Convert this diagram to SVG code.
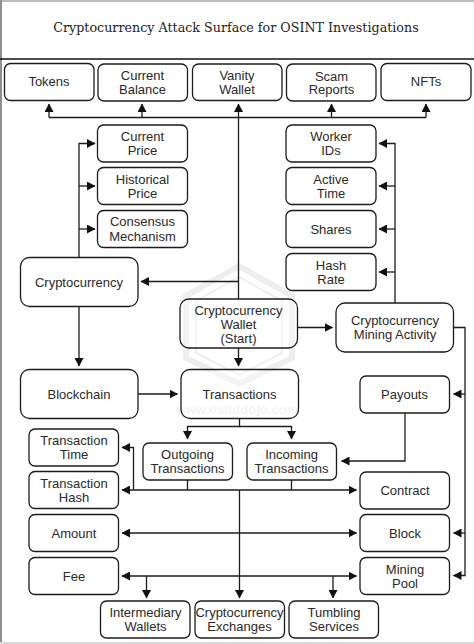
<svg xmlns="http://www.w3.org/2000/svg" width="474" height="644" viewBox="0 0 474 644">
<style>
.n{fill:#fff;stroke:#1c1c1c;stroke-width:1.3}
.w{fill:#fff;fill-opacity:.35}
.t{font-family:"Liberation Sans",Arial,sans-serif;font-size:13px;fill:#2a2a2a;text-anchor:middle}
.c{fill:none;stroke:#1c1c1c;stroke-width:1.3}
.m{fill:none;stroke:#eeeeee}
</style>
<defs><marker id="a" markerWidth="9" markerHeight="9" refX="8" refY="4.500" orient="auto" markerUnits="userSpaceOnUse"><path d="M0 0L8.500 4.500L0 9z" fill="#111"/></marker></defs>
<rect width="474" height="644" fill="#fff"/>
<rect width="474" height="2" fill="#bdbdbd"/>
<rect width="2" height="644" fill="#8f8f8f"/>
<rect y="642" width="474" height="2" fill="#d8d8d8"/>
<path d="M0 59H474" stroke="#111" stroke-width="1.5"/>
<text x="236" y="32" style="font-family:'DejaVu Serif',serif;font-size:12.700px;fill:#222;text-anchor:middle">Cryptocurrency Attack Surface for OSINT Investigations</text>
<g id="watermark">
<path class="m" stroke-width="6" d="M239 266L292 296V358L239 384L186 358V296Z"/>
<path class="m" stroke-width="2" d="M239 277L282 301V353L239 375L196 353V301Z"/>
<text x="237" y="414" style="font-family:'Liberation Sans',sans-serif;font-size:13px;font-weight:bold;fill:#eeeeee;text-anchor:middle">www.osintdojo.com</text>
</g>
<g id="connectors">
<path class="c" d="M49 117.500H426"/>
<path class="c" d="M49 117.500V104" marker-end="url(#a)"/>
<path class="c" d="M142 117.500V104" marker-end="url(#a)"/>
<path class="c" d="M331.500 117.500V104" marker-end="url(#a)"/>
<path class="c" d="M426 117.500V104" marker-end="url(#a)"/>
<path class="c" d="M238.500 299V104" marker-end="url(#a)"/>
<path class="c" d="M79 257.500V143.500H95" marker-end="url(#a)"/>
<path class="c" d="M79 186H95" marker-end="url(#a)"/>
<path class="c" d="M79 229H95" marker-end="url(#a)"/>
<path class="c" d="M395 303V143.500H379" marker-end="url(#a)"/>
<path class="c" d="M395 186H379" marker-end="url(#a)"/>
<path class="c" d="M395 229H379" marker-end="url(#a)"/>
<path class="c" d="M395 272H379" marker-end="url(#a)"/>
<path class="c" d="M238.500 281.500H141" marker-end="url(#a)"/>
<path class="c" d="M79 306.500V366" marker-end="url(#a)"/>
<path class="c" d="M297.500 327.500H332.500" marker-end="url(#a)"/>
<path class="c" d="M238.500 348V366" marker-end="url(#a)"/>
<path class="c" d="M138 394H177.500" marker-end="url(#a)"/>
<path class="c" d="M453.500 327.500H465V575.500H453.500" marker-end="url(#a)"/>
<path class="c" d="M465 394H453.500" marker-end="url(#a)"/>
<path class="c" d="M465 533H453.500" marker-end="url(#a)"/>
<path class="c" d="M405 413V461H341.500" marker-end="url(#a)"/>
<path class="c" d="M239.500 418.500V426.500H187.500V439" marker-end="url(#a)"/>
<path class="c" d="M239.500 426.500H291.500V439" marker-end="url(#a)"/>
<path class="c" d="M187.500 480V490M291.500 480V490"/>
<path class="c" d="M133.500 490V447.500H122" marker-end="url(#a)"/>
<path class="c" d="M239.500 490H122" marker-end="url(#a)"/>
<path class="c" d="M239.500 490H356.500" marker-end="url(#a)"/>
<path class="c" d="M239.500 490V598" marker-end="url(#a)"/>
<path class="c" d="M239.500 533H122" marker-end="url(#a)"/>
<path class="c" d="M239.500 533H356.500" marker-end="url(#a)"/>
<path class="c" d="M239.500 576H122" marker-end="url(#a)"/>
<path class="c" d="M239.500 576H356.500" marker-end="url(#a)"/>
<path class="c" d="M146.500 576V598" marker-end="url(#a)"/>
<path class="c" d="M333 576V598" marker-end="url(#a)"/>
</g>
<g id="tokens"><rect class="n" x="4.500" y="63.500" width="89.500" height="37" rx="6"/><text class="t" x="49" y="86">Tokens</text></g>
<g id="balance"><rect class="n" x="98" y="64" width="89.500" height="37" rx="6"/><text class="t" x="142.500" y="80">Current</text><text class="t" x="142.500" y="94">Balance</text></g>
<g id="vanity"><rect class="n" x="192.500" y="64" width="89.500" height="36.500" rx="6"/><text class="t" x="237" y="80">Vanity</text><text class="t" x="237" y="94">Wallet</text></g>
<g id="scam"><rect class="n" x="286.500" y="64" width="89.500" height="37" rx="6"/><text class="t" x="331.500" y="80.500">Scam</text><text class="t" x="331.500" y="94">Reports</text></g>
<g id="nfts"><rect class="n" x="381" y="63.500" width="90" height="37" rx="6"/><text class="t" x="426" y="86">NFTs</text></g>
<g id="price"><rect class="n" x="97.500" y="125" width="90" height="37" rx="6"/><text class="t" x="142.500" y="141">Current</text><text class="t" x="142.500" y="155">Price</text></g>
<g id="historical"><rect class="n" x="97.500" y="167.500" width="90" height="37" rx="6"/><text class="t" x="142.500" y="183.500">Historical</text><text class="t" x="142.500" y="197.500">Price</text></g>
<g id="consensus"><rect class="n" x="97.500" y="210.500" width="90" height="37" rx="6"/><text class="t" x="142.500" y="226">Consensus</text><text class="t" x="142.500" y="240.500">Mechanism</text></g>
<g id="worker"><rect class="n" x="286" y="125" width="90" height="37" rx="6"/><text class="t" x="331" y="141">Worker</text><text class="t" x="331" y="155">IDs</text></g>
<g id="active"><rect class="n" x="286" y="167.500" width="90" height="37" rx="6"/><text class="t" x="331" y="183.500">Active</text><text class="t" x="331" y="197.500">Time</text></g>
<g id="shares"><rect class="n" x="286" y="210.500" width="90" height="37" rx="6"/><text class="t" x="331" y="233.500">Shares</text></g>
<g id="hash-rate"><rect class="n" x="286" y="253.500" width="90" height="37" rx="6"/><text class="t" x="331" y="269.500">Hash</text><text class="t" x="331" y="283.500">Rate</text></g>
<g id="cryptocurrency"><rect class="n" x="20.500" y="257.500" width="117.500" height="49" rx="9"/><text class="t" x="79" y="286.500">Cryptocurrency</text></g>
<g id="wallet"><rect class="n w" x="180" y="299" width="117.500" height="49" rx="9"/><text class="t" x="238.500" y="314.500">Cryptocurrency</text><text class="t" x="238.500" y="328.500">Wallet</text><text class="t" x="238.500" y="342.500">(Start)</text></g>
<g id="mining"><rect class="n" x="336" y="303" width="117.500" height="49" rx="9"/><text class="t" x="395" y="325">Cryptocurrency</text><text class="t" x="395" y="339">Mining Activity</text></g>
<g id="blockchain"><rect class="n" x="20.500" y="369.500" width="117.500" height="49" rx="9"/><text class="t" x="79" y="398.500">Blockchain</text></g>
<g id="transactions"><rect class="n w" x="181" y="369.500" width="117.500" height="49" rx="9"/><text class="t" x="239.500" y="398.500">Transactions</text></g>
<g id="payouts"><rect class="n" x="360" y="376" width="89.500" height="37" rx="6"/><text class="t" x="404.500" y="399">Payouts</text></g>
<g id="tx-time"><rect class="n" x="29" y="429" width="89.500" height="37" rx="6"/><text class="t" x="74" y="445">Transaction</text><text class="t" x="74" y="459">Time</text></g>
<g id="tx-hash"><rect class="n" x="29" y="471.500" width="89.500" height="37" rx="6"/><text class="t" x="74" y="487.500">Transaction</text><text class="t" x="74" y="501.500">Hash</text></g>
<g id="amount"><rect class="n" x="29" y="514.500" width="89.500" height="37" rx="6"/><text class="t" x="74" y="537.500">Amount</text></g>
<g id="fee"><rect class="n" x="29" y="557.500" width="89.500" height="37" rx="6"/><text class="t" x="74" y="580.500">Fee</text></g>
<g id="outgoing"><rect class="n" x="143" y="443" width="89.500" height="37" rx="6"/><text class="t" x="187.500" y="459">Outgoing</text><text class="t" x="187.500" y="473">Transactions</text></g>
<g id="incoming"><rect class="n" x="247" y="443" width="89.500" height="37" rx="6"/><text class="t" x="291.500" y="459">Incoming</text><text class="t" x="291.500" y="473">Transactions</text></g>
<g id="contract"><rect class="n" x="360" y="472" width="89.500" height="37" rx="6"/><text class="t" x="405" y="495">Contract</text></g>
<g id="block"><rect class="n" x="360" y="514.500" width="89.500" height="37" rx="6"/><text class="t" x="405" y="537.500">Block</text></g>
<g id="pool"><rect class="n" x="360" y="557.500" width="89.500" height="37" rx="6"/><text class="t" x="405" y="574">Mining</text><text class="t" x="405" y="588">Pool</text></g>
<g id="intermediary"><rect class="n" x="100.500" y="601" width="89.500" height="37" rx="6"/><text class="t" x="145.500" y="617">Intermediary</text><text class="t" x="145.500" y="631">Wallets</text></g>
<g id="exchanges"><rect class="n" x="195" y="601" width="89.500" height="37" rx="6"/><text class="t" x="239.500" y="617">Cryptocurrency</text><text class="t" x="239.500" y="631">Exchanges</text></g>
<g id="tumbling"><rect class="n" x="289" y="601" width="89.500" height="37" rx="6"/><text class="t" x="334" y="617">Tumbling</text><text class="t" x="334" y="631">Services</text></g>
</svg>
